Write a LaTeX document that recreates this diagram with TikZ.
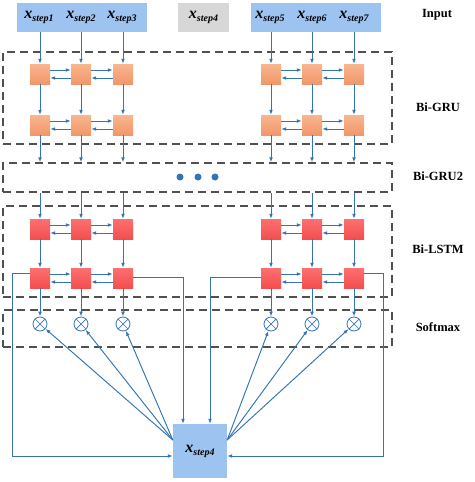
\documentclass[tikz,border=0pt]{standalone}
\usepackage{fontspec}
\setmainfont{Liberation Serif}
\usetikzlibrary{arrows.meta}
\definecolor{ablue}{RGB}{52,115,180}
\definecolor{inblue}{RGB}{157,195,240}
\definecolor{ingray}{RGB}{215,215,215}
\definecolor{gtop}{RGB}{248,182,142}
\definecolor{gbot}{RGB}{241,150,106}
\definecolor{ltop}{RGB}{252,112,112}
\definecolor{lbot}{RGB}{244,78,78}
\definecolor{dgray}{RGB}{80,80,80}
\newcommand{\xsub}[1]{{\fontsize{16}{16}\selectfont\bfseries\itshape x}\raisebox{-3pt}{\fontsize{10}{10}\selectfont\bfseries\itshape step#1}}
\begin{document}
\begin{tikzpicture}[x=1pt,y=-1pt,
  arr/.style={draw=ablue, line width=0.95pt, -{Latex[length=5pt,width=3.8pt]}},
  gru/.style={rectangle, minimum size=20pt, inner sep=0pt, top color=gtop, bottom color=gbot},
  lstm/.style={rectangle, minimum size=20pt, inner sep=0pt, top color=ltop, bottom color=lbot},
  dbox/.style={rectangle, draw=dgray, line width=1.3pt, dash pattern=on 8pt off 5pt, inner sep=0pt},
  lab/.style={font=\fontsize{12.5}{13}\selectfont\bfseries},
  otm/.style={circle, draw=ablue, line width=0.8pt, minimum size=14pt, inner sep=0pt},
  inbox/.style={rectangle, inner sep=0pt, minimum height=29pt},
  dot/.style={circle, fill=ablue, minimum size=7pt, inner sep=0pt}
]
\useasboundingbox (0,0) rectangle (474,482);

% dashed layer boxes
\node[dbox, minimum width=389pt, minimum height=92pt] (bg1) at (197.5,98) {};
\node[dbox, minimum width=389pt, minimum height=29pt] (bg2) at (197.5,177.5) {};
\node[dbox, minimum width=389pt, minimum height=91pt] (bl) at (197.5,251.5) {};
\node[dbox, minimum width=389pt, minimum height=37pt] (bs) at (197.5,328.5) {};

% input boxes
\node[inbox, fill=inblue, minimum width=130pt] (inL) at (82,17.5) {};
\node[inbox, fill=ingray, minimum width=51pt] (inG) at (203.5,17.5) {};
\node[inbox, fill=inblue, minimum width=130pt] (inR) at (316,17.5) {};
\node[inner sep=0pt] (x1) at (39,17) {\xsub{1}};
\node[inner sep=0pt] (x2) at (81,17) {\xsub{2}};
\node[inner sep=0pt] (x3) at (122,17) {\xsub{3}};
\node[inner sep=0pt] (x4) at (203.5,17) {\xsub{4}};
\node[inner sep=0pt] (x5) at (270,17) {\xsub{5}};
\node[inner sep=0pt] (x6) at (312,17) {\xsub{6}};
\node[inner sep=0pt] (x7) at (354,17) {\xsub{7}};

% cells
\foreach \i/\x in {1/40,2/81,3/123,4/271,5/312,6/354}{
  \node[gru] (g1\i) at (\x,74) {};
  \node[gru] (g2\i) at (\x,125) {};
  \node[lstm] (l1\i) at (\x,229) {};
  \node[lstm] (l2\i) at (\x,278) {};
  \node[otm] (o\i) at (\x,324) {};
  \draw[ablue, line width=0.7pt] (o\i.north west) -- (o\i.south east) (o\i.north east) -- (o\i.south west);
}

% dots
\node[dot] (d1) at (180,177) {};
\node[dot] (d2) at (198,177) {};
\node[dot] (d3) at (215,177) {};

% bottom x_step4
\node[rectangle, fill=inblue, minimum size=54pt, inner sep=0pt] (xb) at (200,451) {\xsub{4}};

% input arrows
\foreach \i in {1,2,3}{\draw[arr] (g1\i |- inL.south) -- (g1\i.north);}
\foreach \i in {4,5,6}{\draw[arr] (g1\i |- inR.south) -- (g1\i.north);}

% vertical arrows
\foreach \i in {1,...,6}{
  \draw[arr] (g1\i.south) -- (g2\i.north);
  \draw[arr] (g2\i.south) -- (g2\i |- bg2.north);
  \draw[arr] (l1\i |- bg2.south) -- (l1\i.north);
  \draw[arr] (l1\i.south) -- (l2\i.north);
  \draw[arr] (l2\i.south) -- (o\i);
}

% horizontal bidirectional arrows
\foreach \r in {g1,g2,l1,l2}{
  \foreach \a/\b in {1/2,2/3,4/5,5/6}{
    \draw[arr] ([yshift=4pt]\r\a.east) -- ([yshift=4pt]\r\b.west);
    \draw[arr] ([yshift=-4pt]\r\b.west) -- ([yshift=-4pt]\r\a.east);
  }
}

% feedback lines to x_step4
\coordinate (cL) at (12,456);
\coordinate (cR) at (383,456);
\coordinate (mL) at (183,300);
\coordinate (mR) at (210,300);
\draw[arr] ([yshift=5pt]l21.west) -| (cL) -- (cL -| xb.west);
\draw[arr] ([yshift=5pt]l26.east) -| (cR) -- (cR -| xb.east);
\draw[arr] ([yshift=1pt]l23.east) -| (mL |- xb.north);
\draw[arr] ([yshift=1pt]l24.west) -| (mR |- xb.north);

% fan arrows to softmax
\foreach \i in {1,2,3}{\draw[arr] ([yshift=11pt]xb.west) -- (o\i);}
\foreach \i in {4,5,6}{\draw[arr] ([yshift=11pt]xb.east) -- (o\i);}

% layer labels
\node[lab] (tIn) at (437,15) {Input};
\node[lab] (tG1) at (438,107) {Bi-GRU};
\node[lab] (tG2) at (438,176) {Bi-GRU2};
\node[lab] (tL) at (438,249) {Bi-LSTM};
\node[lab] (tS) at (438,327) {Softmax};
\end{tikzpicture}
\end{document}
